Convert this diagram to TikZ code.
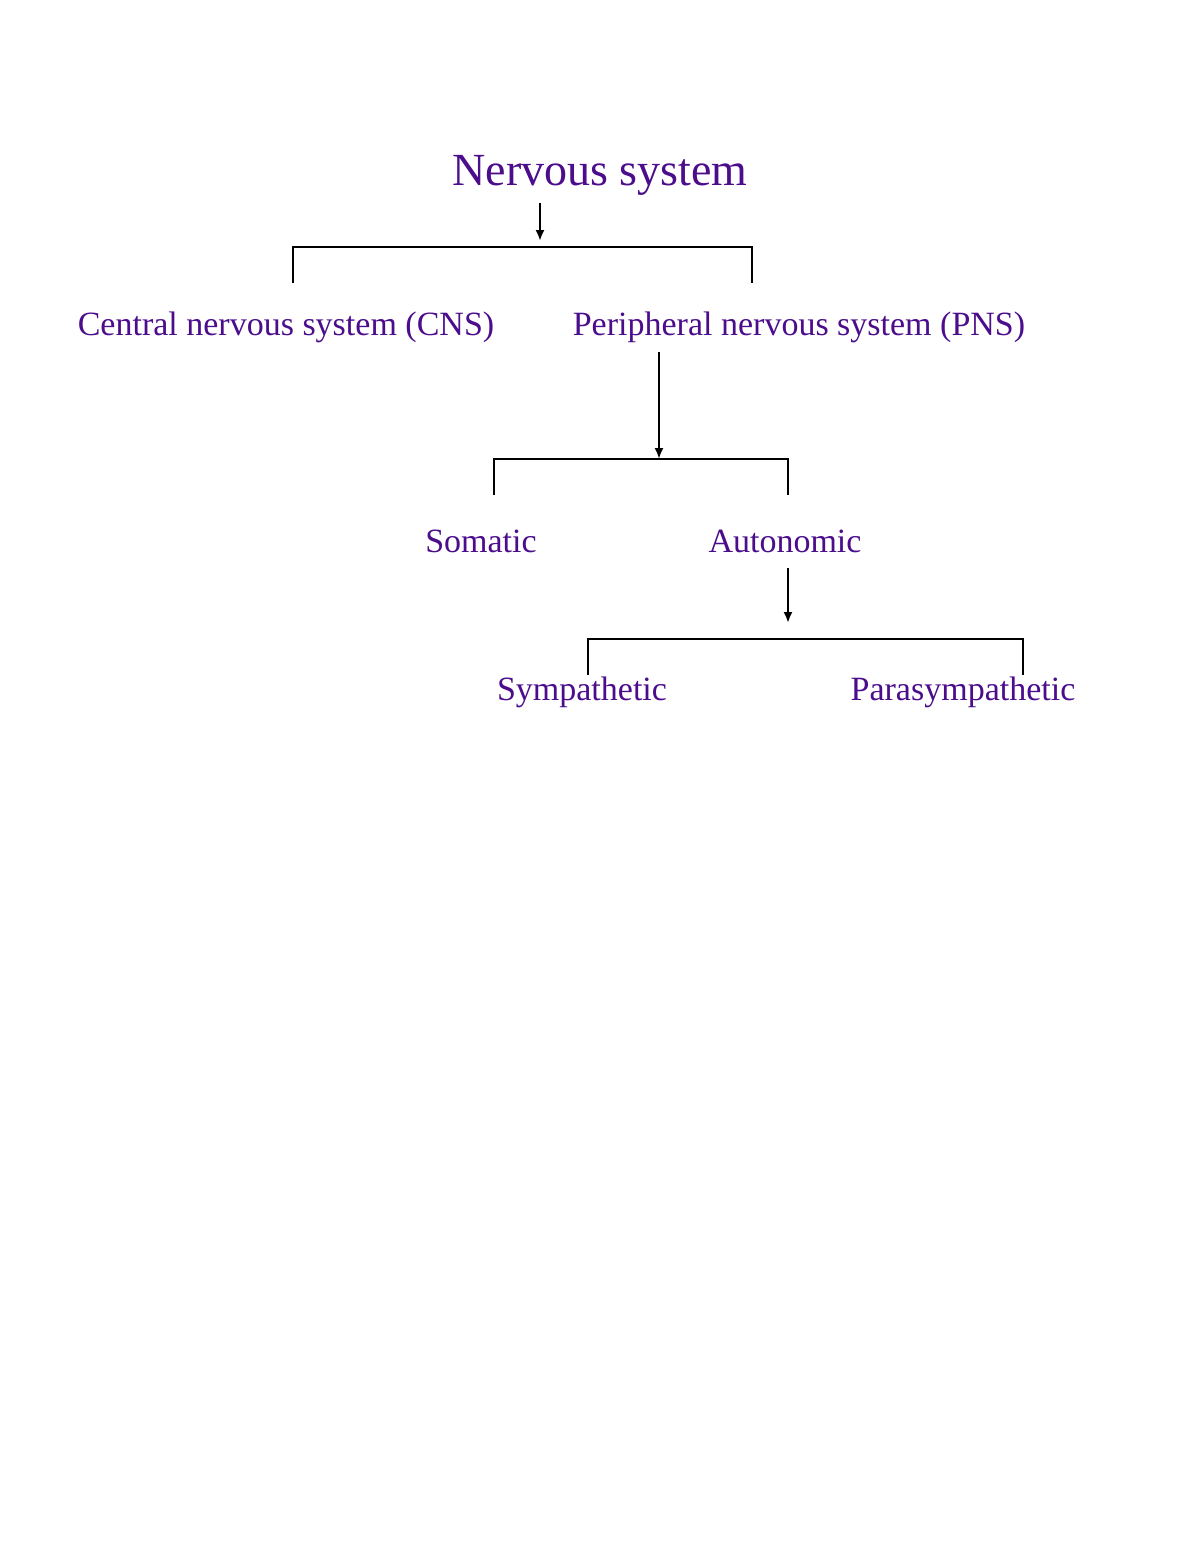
\documentclass[tikz,border=0pt]{standalone}
\usepackage{fontspec}
\setmainfont{Liberation Serif}
\usetikzlibrary{arrows.meta}
\definecolor{txt}{HTML}{4B0D8C}
\begin{document}
\begin{tikzpicture}[x=1pt,y=-1pt,
  lbl/.style={anchor=base,text=txt,font=\fontsize{34}{40}\selectfont,inner sep=0pt},
  ln/.style={line width=2.6pt},
  arr/.style={ln,-{Latex[length=11pt,width=9pt]}}]
\useasboundingbox (0,0) rectangle (1200,1553);
\node[lbl,font=\fontsize{46}{52}\selectfont] (ns) at (600,185) {Nervous system};
\node[lbl] (cns) at (286,335) {Central nervous system (CNS)};
\node[lbl] (pns) at (799,335) {Peripheral nervous system (PNS)};
\node[lbl] (som) at (481,552) {Somatic};
\node[lbl] (aut) at (785,552) {Autonomic};
\node[lbl] (sym) at (582,700) {Sympathetic};
\node[lbl] (par) at (963,700) {Parasympathetic};
\coordinate (a1s) at (540,203); \coordinate (a1e) at (540,241);
\coordinate (b1l) at (293,283); \coordinate (b1r) at (752,283);
\coordinate (a2s) at (659,352); \coordinate (a2e) at (659,459);
\coordinate (b2l) at (494,495); \coordinate (b2r) at (788,495);
\coordinate (a3s) at (788,568); \coordinate (a3e) at (788,623);
\coordinate (b3l) at (588,675); \coordinate (b3r) at (1023,675);
\draw[arr] (a1s) -- (a1e);
\draw[ln] (b1l) |- (752,247) -- (b1r);
\draw[arr] (a2s) -- (a2e);
\draw[ln] (b2l) |- (788,459) -- (b2r);
\draw[arr] (a3s) -- (a3e);
\draw[ln] (b3l) |- (1023,639) -- (b3r);
\end{tikzpicture}
\end{document}
